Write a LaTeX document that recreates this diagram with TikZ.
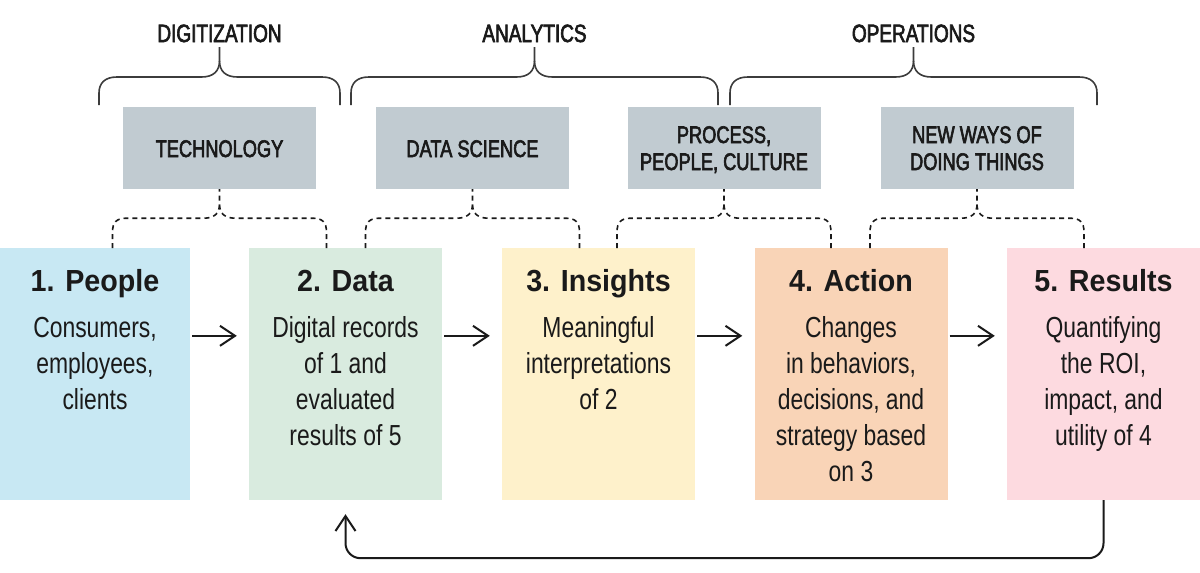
\documentclass[tikz,border=0pt]{standalone}
\usepackage{fontspec}
\setmainfont{Liberation Sans}
\newfontfamily\bodyf[FakeStretch=0.79]{Liberation Sans}
\newfontfamily\titlef[FakeStretch=0.94]{Liberation Sans}
\newfontfamily\grayf[FakeStretch=0.76,FakeBold=2.5]{Liberation Sans}
\newfontfamily\headf[FakeStretch=0.76,FakeBold=2.5]{Liberation Sans}
\usetikzlibrary{arrows.meta,calc}
\definecolor{cblue}{HTML}{C8E8F3}
\definecolor{cgreen}{HTML}{D9EBDF}
\definecolor{cyellow}{HTML}{FEF1CB}
\definecolor{corange}{HTML}{F9D4B7}
\definecolor{cpink}{HTML}{FDDAE0}
\definecolor{cgray}{HTML}{C1CBD1}
\definecolor{ink}{HTML}{1A1A1A}
\tikzset{
  stage/.style={rectangle,draw=none,inner sep=0pt,minimum height=252pt},
  graybox/.style={rectangle,draw=none,fill=cgray,inner sep=0pt,minimum width=193pt,minimum height=82pt},
  titletext/.style={anchor=base,inner sep=0pt,text=ink,font=\titlef\bfseries\fontsize{30.5}{36}\selectfont},
  bodytext/.style={anchor=north,inner sep=0pt,align=center,text=ink,font=\bodyf\fontsize{29}{36}\selectfont},
  graytext/.style={anchor=base,inner sep=0pt,align=center,text=ink,font=\grayf\fontsize{24}{27}\selectfont},
  headtext/.style={anchor=base,inner sep=0pt,text=ink,font=\headf\fontsize{25}{27}\selectfont},
  arr/.style={draw=ink,line width=2pt,-{Straight Barb[length=15pt,width=20pt,line width=2pt]}},
  bracestyle/.style={draw=ink!85,line width=1.6pt},
  dconn/.style={draw=ink,line width=1.6pt,dash pattern=on 5pt off 4pt},
}
\newcommand\topbrace[2]{%
  \draw[bracestyle] ($(#1)+(-#2,58)$) -- ($(#1)+(-#2,46)$)
    .. controls ($(#1)+(-#2,36)$) and ($(#1)+(-#2+6,30)$) .. ($(#1)+(-#2+18,30)$)
    -- ($(#1)+(-18,30)$)
    .. controls ($(#1)+(-6,30)$) and ($(#1)+(0,24)$) .. ($(#1)+(0,14)$) -- (#1);
  \draw[bracestyle] ($(#1)+(#2,58)$) -- ($(#1)+(#2,46)$)
    .. controls ($(#1)+(#2,36)$) and ($(#1)+(#2-6,30)$) .. ($(#1)+(#2-18,30)$)
    -- ($(#1)+(18,30)$)
    .. controls ($(#1)+(6,30)$) and ($(#1)+(0,24)$) .. ($(#1)+(0,14)$);
}
\newcommand\dashbrace[1]{%
  \draw[dconn] ($(#1.south)+(-107,59)$) -- ($(#1.south)+(-107,43)$)
    .. controls ($(#1.south)+(-107,33)$) and ($(#1.south)+(-103,29)$) .. ($(#1.south)+(-93,29)$)
    -- ($(#1.south)+(-16,29)$)
    .. controls ($(#1.south)+(-6,29)$) and ($(#1.south)+(0,25)$) .. ($(#1.south)+(0,15)$) -- (#1.south);
  \draw[dconn] ($(#1.south)+(107,59)$) -- ($(#1.south)+(107,43)$)
    .. controls ($(#1.south)+(107,33)$) and ($(#1.south)+(103,29)$) .. ($(#1.south)+(93,29)$)
    -- ($(#1.south)+(16,29)$)
    .. controls ($(#1.south)+(6,29)$) and ($(#1.south)+(0,25)$) .. ($(#1.south)+(0,15)$);
}
\begin{document}
\begin{tikzpicture}[x=1pt,y=-1pt]
\useasboundingbox (0,0) rectangle (1200,573);
\fill[white] (0,0) rectangle (1200,573);
% stage boxes
\node[stage,fill=cblue,minimum width=190pt] (b1) at (95,374) {};
\node[stage,fill=cgreen,minimum width=193pt] (b2) at (345.5,374) {};
\node[stage,fill=cyellow,minimum width=193pt] (b3) at (598.5,374) {};
\node[stage,fill=corange,minimum width=193pt] (b4) at (851,374) {};
\node[stage,fill=cpink,minimum width=193pt] (b5) at (1103.5,374) {};
% titles
\node[titletext] (t1) at ($(b1.north)+(0,44)$) {1. People};
\node[titletext] (t2) at ($(b2.north)+(0,44)$) {2. Data};
\node[titletext] (t3) at ($(b3.north)+(0,44)$) {3. Insights};
\node[titletext] (t4) at ($(b4.north)+(0,44)$) {4. Action};
\node[titletext] (t5) at ($(b5.north)+(0,44)$) {5. Results};
% bodies
\node[bodytext] (d1) at ($(b1.north)+(0,64)$) {\strut Consumers,\\employees,\\clients};
\node[bodytext] (d2) at ($(b2.north)+(0,64)$) {\strut Digital records\\of 1 and\\evaluated\\results of 5};
\node[bodytext] (d3) at ($(b3.north)+(0,64)$) {\strut Meaningful\\interpretations\\of 2};
\node[bodytext] (d4) at ($(b4.north)+(0,64)$) {\strut Changes\\in behaviors,\\decisions, and\\strategy based\\on 3};
\node[bodytext] (d5) at ($(b5.north)+(0,64)$) {\strut Quantifying\\the ROI,\\impact, and\\utility of 4};
% gray boxes
\node[graybox] (g1) at (219.5,148) {};
\node[graybox] (g2) at (472.5,148) {};
\node[graybox] (g3) at (724,148) {};
\node[graybox] (g4) at (977,148) {};
\node[graytext] (l1) at ($(g1.center)+(0,9)$) {TECHNOLOGY};
\node[graytext] (l2) at ($(g2.center)+(0,9)$) {DATA SCIENCE};
\node[graytext] (l3) at ($(g3.center)+(0,22)$) {PROCESS,\\PEOPLE, CULTURE};
\node[graytext] (l4) at ($(g4.center)+(0,22)$) {NEW WAYS OF\\DOING THINGS};
% headers
\node[headtext] (h1) at (219.5,42) {DIGITIZATION};
\node[headtext] (h2) at (534.5,42) {ANALYTICS};
\node[headtext] (h3) at (913.5,42) {OPERATIONS};
\coordinate (p1) at (219.5,47);
\coordinate (p2) at (534.5,47);
\coordinate (p3) at (913.5,47);
\topbrace{p1}{120.5}
\topbrace{p2}{183.5}
\topbrace{p3}{183.5}
% dashed connectors
\dashbrace{g1}
\dashbrace{g2}
\dashbrace{g3}
\dashbrace{g4}
% arrows
\draw[arr] ($(b1.north east)+(2,88)$) -- ($(b2.north west)+(-12,88)$);
\draw[arr] ($(b2.north east)+(2,88)$) -- ($(b3.north west)+(-12,88)$);
\draw[arr] ($(b3.north east)+(2,88)$) -- ($(b4.north west)+(-12,88)$);
\draw[arr] ($(b4.north east)+(2,88)$) -- ($(b5.north west)+(-12,88)$);
\draw[arr,rounded corners=15pt] (b5.south) -- ++(0,58) -| ($(b2.south)+(0,14)$);
\end{tikzpicture}
\end{document}
